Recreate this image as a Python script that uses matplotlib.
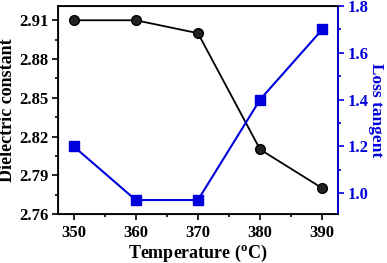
import matplotlib
matplotlib.use("Agg")
import matplotlib.pyplot as plt
from matplotlib.ticker import MultipleLocator

temperature = [350, 360, 370, 380, 390]
dielectric_constant = [2.91, 2.91, 2.90, 2.81, 2.78]
loss_tangent = [1.20, 0.97, 0.97, 1.40, 1.70]

plt.rcParams["font.family"] = ["Liberation Serif", "DejaVu Serif"]
plt.rcParams["font.weight"] = "bold"

blue = "#0000dd"

fig = plt.figure(figsize=(3.87, 2.63), dpi=100)
ax = fig.add_axes([0.150, 0.186, 0.723, 0.791])
ax.plot(temperature, dielectric_constant, "-o", color="black", linewidth=1.3,
        markersize=7, markerfacecolor="#222222", markeredgecolor="black")
ax.set_xlim(347.5, 392.5)
ax.set_ylim(2.76, 2.921)
ax.set_xticks(temperature)
ax.xaxis.set_minor_locator(MultipleLocator(5))
ax.set_yticks([2.76, 2.79, 2.82, 2.85, 2.88, 2.91])
ax.yaxis.set_minor_locator(MultipleLocator(0.015))
ax.tick_params(which="both", direction="out", labelsize=12, width=1.2)
ax.tick_params(which="major", length=4, pad=3)
ax.tick_params(which="minor", length=2.5)
ax.tick_params(axis="x", pad=4)
ax.set_xlabel("Temperature ($\\mathregular{^oC}$)", fontsize=13, fontweight="bold", labelpad=1)
ax.set_ylabel("Dielectric constant", fontsize=13, fontweight="bold", labelpad=2)
for s in ax.spines.values():
    s.set_linewidth(1.3)

ax2 = ax.twinx()
ax2.plot(temperature, loss_tangent, "-s", color=blue, linewidth=1.5, markersize=7)
ax2.set_ylim(0.91, 1.8)
ax2.set_yticks([1.0, 1.2, 1.4, 1.6, 1.8])
ax2.yaxis.set_minor_locator(MultipleLocator(0.1))
ax2.tick_params(which="both", direction="out", labelsize=12, width=1.2,
                colors=blue)
ax2.tick_params(which="major", length=4, pad=3)
ax2.tick_params(which="minor", length=2.5)
ax2.spines["right"].set_color(blue)
ax2.spines["right"].set_linewidth(1.3)
ax2.set_ylabel("Loss tangent", fontsize=12.5, fontweight="bold", color=blue,
               rotation=270, labelpad=11)

fig.savefig("out.png", dpi=100)
